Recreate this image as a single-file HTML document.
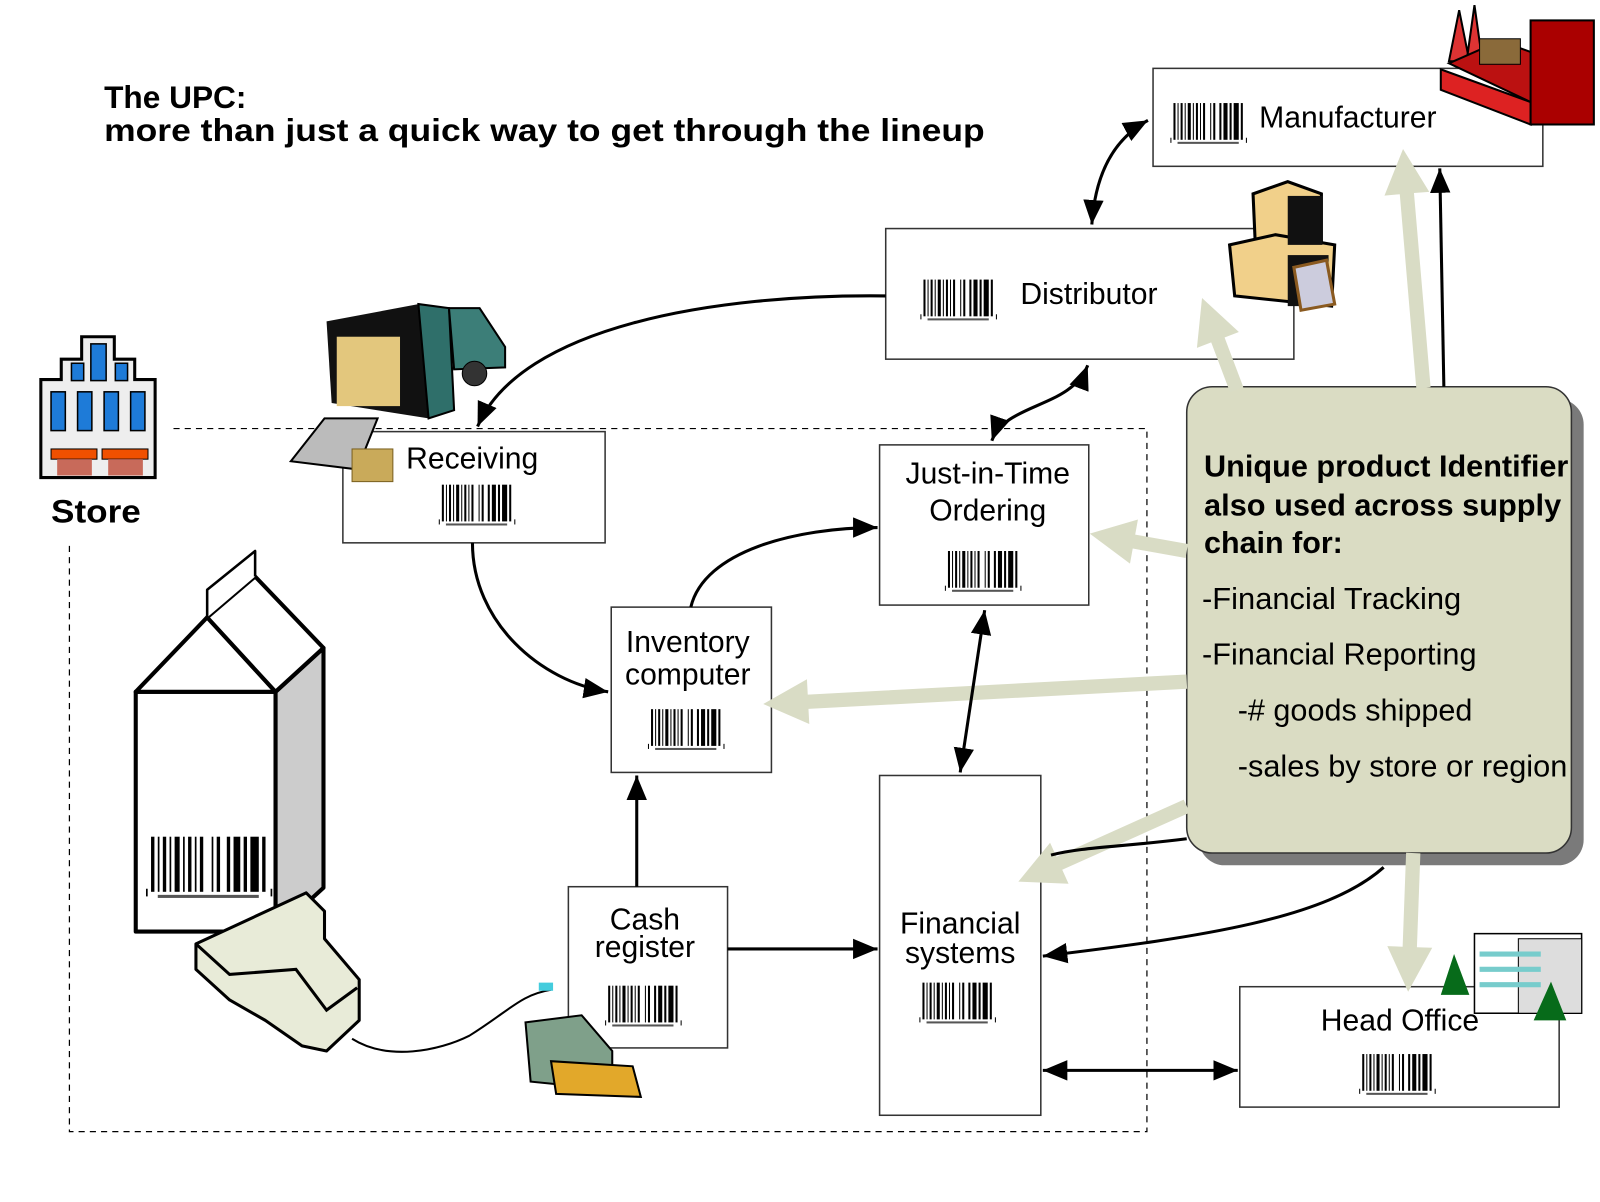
<!DOCTYPE html>
<html><head><meta charset="utf-8"><style>
html,body{margin:0;padding:0;background:#fff}
svg{display:block}
text{font-family:"Liberation Sans",Arial,sans-serif;fill:#000}
</style></head><body>
<svg width="1600" height="1202" viewBox="0 0 1568 1178" xmlns="http://www.w3.org/2000/svg">
<defs>
<marker id="ah" markerUnits="userSpaceOnUse" markerWidth="26" markerHeight="22" refX="24" refY="10" orient="auto-start-reverse"><path d="M0,0 L24,10 L0,20 z" fill="#000"/></marker>
<g id="bc">
<rect x="0" y="0" width="2" height="36"/><rect x="4" y="0" width="1" height="36"/><rect x="7" y="0" width="2" height="36"/><rect x="11" y="0" width="1" height="36"/><rect x="14" y="0" width="3" height="36"/><rect x="19" y="0" width="1" height="36"/><rect x="22" y="0" width="2" height="36"/><rect x="26" y="0" width="1" height="36"/><rect x="29" y="0" width="2" height="36"/><rect x="36" y="0" width="1" height="36"/><rect x="39" y="0" width="2" height="36"/><rect x="45" y="0" width="2" height="36"/><rect x="49" y="0" width="4" height="36"/><rect x="55" y="0" width="2" height="36"/><rect x="59" y="0" width="5" height="36"/><rect x="66" y="0" width="2" height="36"/>
<rect x="-3" y="34" width="1" height="5"/><rect x="71" y="34" width="1" height="5"/>
<rect x="4" y="38" width="60" height="2" fill="#555"/>
</g>
</defs>

<!-- title -->
<text x="102" y="106" font-size="31" font-weight="bold">The UPC:</text>
<text x="102" y="138" font-size="31" font-weight="bold" textLength="863" lengthAdjust="spacingAndGlyphs">more than just a quick way to get through the lineup</text>

<!-- dashed store boundary -->
<path d="M170,420 H1124 V1109 H68 V535" fill="none" stroke="#000" stroke-width="1.2" stroke-dasharray="6,5"/>

<!-- green box -->
<rect x="1175" y="391" width="377" height="457" rx="25" fill="#7a7a7a"/>
<rect x="1163" y="379" width="377" height="457" rx="25" fill="#dadcc3" stroke="#333" stroke-width="1.5"/>
<g font-size="30" font-weight="bold">
<text x="1180" y="467" textLength="357" lengthAdjust="spacingAndGlyphs">Unique product Identifier</text>
<text x="1180" y="505" textLength="350" lengthAdjust="spacingAndGlyphs">also used across supply</text>
<text x="1180" y="542" textLength="136" lengthAdjust="spacingAndGlyphs">chain for:</text>
</g>
<g font-size="30">
<text x="1178" y="597" textLength="254" lengthAdjust="spacingAndGlyphs">-Financial Tracking</text>
<text x="1178" y="651" textLength="269" lengthAdjust="spacingAndGlyphs">-Financial Reporting</text>
<text x="1213" y="706" textLength="230" lengthAdjust="spacingAndGlyphs">-# goods shipped</text>
<text x="1213" y="761" textLength="323" lengthAdjust="spacingAndGlyphs">-sales by store or region</text>
</g>

<!-- boxes -->
<g fill="#fff" stroke="#333" stroke-width="1.5">
<rect x="1130" y="67" width="382" height="96"/>
<rect x="868" y="224" width="400" height="128"/>
<rect x="336" y="423" width="257" height="109"/>
<rect x="862" y="436" width="205" height="157"/>
<rect x="599" y="595" width="157" height="162"/>
<rect x="557" y="869" width="156" height="158"/>
<rect x="862" y="760" width="158" height="333"/>
<rect x="1215" y="967" width="313" height="118"/>
</g>
<g font-size="29.5">
<text x="1234" y="125">Manufacturer</text>
<text x="1000" y="298">Distributor</text>
<text x="398" y="459">Receiving</text>
<text x="968" y="474" text-anchor="middle">Just-in-Time</text>
<text x="968" y="510" text-anchor="middle">Ordering</text>
<text x="674" y="639" text-anchor="middle">Inventory</text>
<text x="674" y="671" text-anchor="middle">computer</text>
<text x="632" y="911" text-anchor="middle">Cash</text>
<text x="632" y="938" text-anchor="middle">register</text>
<text x="941" y="915" text-anchor="middle">Financial</text>
<text x="941" y="944" text-anchor="middle">systems</text>
<text x="1372" y="1010" text-anchor="middle">Head Office</text>
</g>
<use href="#bc" x="1150" y="101"/>
<use href="#bc" x="905" y="274"/>
<use href="#bc" x="433" y="475"/>
<use href="#bc" x="929" y="540"/>
<use href="#bc" x="638" y="695"/>
<use href="#bc" x="596" y="966"/>
<use href="#bc" x="904" y="963"/>
<use href="#bc" x="1335" y="1033"/>

<!-- green arrows -->
<g id="garrows" fill="#d9dcc5"></g>

<!-- black connectors -->
<g fill="none" stroke="#000" stroke-width="3">
<path d="M1070,220 Q1075,145 1125,118" marker-start="url(#ah)" marker-end="url(#ah)"/>
<path d="M868,290 C700,288 510,320 468,418" marker-end="url(#ah)"/>
<path d="M1066,358 C1050,400 985,395 972,432" marker-start="url(#ah)" marker-end="url(#ah)"/>
<path d="M463,532 C463,610 530,668 596,678" marker-end="url(#ah)"/>
<path d="M677,595 C690,540 780,517 860,517" marker-end="url(#ah)"/>
<path d="M965,598 L941,757" marker-start="url(#ah)" marker-end="url(#ah)"/>
<path d="M624,869 L624,760" marker-end="url(#ah)"/>
<path d="M713,930 L860,930" marker-end="url(#ah)"/>
<path d="M1022,1049 L1213,1049" marker-start="url(#ah)" marker-end="url(#ah)"/>
<path d="M1356,850 C1300,900 1180,918 1022,937" marker-end="url(#ah)"/>
<path d="M1415,379 L1411,165" marker-end="url(#ah)"/>
<path d="M1163,822 C1100,830 1060,830 1030,838"/>
</g>

<!-- store icon -->
<g stroke="#000" stroke-width="3">
<path d="M40,372 H60 V352 H80 V330 H112 V352 H132 V372 H152 V468 H40 Z" fill="#eee"/>
</g>
<g fill="#1e7bd8" stroke="#000" stroke-width="1.5">
<rect x="89" y="337" width="15" height="36"/><rect x="70" y="356" width="12" height="17"/><rect x="113" y="356" width="12" height="17"/>
<rect x="50" y="384" width="14" height="38"/><rect x="76" y="384" width="14" height="38"/><rect x="102" y="384" width="14" height="38"/><rect x="128" y="384" width="14" height="38"/>
</g>
<rect x="50" y="440" width="45" height="10" fill="#f05000" stroke="#000"/><rect x="100" y="440" width="45" height="10" fill="#f05000" stroke="#000"/>
<rect x="56" y="450" width="34" height="16" fill="#c86a5a"/><rect x="106" y="450" width="34" height="16" fill="#c86a5a"/>
<text x="50" y="512" font-size="32" font-weight="bold" textLength="88" lengthAdjust="spacingAndGlyphs">Store</text>

<!-- truck -->
<path d="M285,452 L318,410 L370,410 L350,460 Z" fill="#bbb" stroke="#000" stroke-width="2"/>
<path d="M320,315 L410,298 L420,410 L325,395 Z" fill="#111"/>
<rect x="330" y="330" width="62" height="68" fill="#e3c77d"/>
<path d="M410,298 L440,302 L445,402 L420,410 Z" fill="#2f6f6a" stroke="#000" stroke-width="2"/>
<path d="M440,302 L470,302 L495,340 L495,360 L445,362 Z" fill="#3c7e78" stroke="#000" stroke-width="2"/>
<circle cx="465" cy="366" r="12" fill="#333" stroke="#000"/>
<rect x="345" y="440" width="40" height="32" fill="#c9aa5a" stroke="#7a6020"/>

<!-- distributor boxes -->
<path d="M1228,190 L1262,178 L1295,190 L1295,240 L1230,235 Z" fill="#f1d08a" stroke="#000" stroke-width="3"/>
<path d="M1205,240 L1250,230 L1308,240 L1305,300 L1210,290 Z" fill="#f1d08a" stroke="#000" stroke-width="3"/>
<rect x="1262" y="192" width="34" height="48" fill="#111"/>
<rect x="1262" y="250" width="40" height="50" fill="#111"/>
<path d="M1268,262 L1300,255 L1308,298 L1275,304 Z" fill="#ccd" stroke="#8a5a20" stroke-width="3"/>

<!-- factory -->
<path d="M1420,60 L1430,10 L1440,60 Z M1438,55 L1445,5 L1452,55 Z" fill="#d33" stroke="#000" stroke-width="2"/>
<path d="M1412,68 L1500,100 L1500,122 L1412,88 Z" fill="#d22" stroke="#000" stroke-width="2"/>
<path d="M1420,62 L1470,40 L1525,60 L1500,100 Z" fill="#b11" stroke="#000" stroke-width="2"/>
<rect x="1500" y="20" width="62" height="102" fill="#a00" stroke="#000" stroke-width="2"/>
<rect x="1450" y="38" width="40" height="25" fill="#8a6a3a" stroke="#000"/>

<!-- head office -->
<rect x="1445" y="915" width="105" height="78" fill="#fff" stroke="#000" stroke-width="1.5"/>
<rect x="1488" y="920" width="62" height="73" fill="#ddd" stroke="#000"/>
<path d="M1450,935 H1510 M1450,950 H1510 M1450,965 H1510" stroke="#7cc" stroke-width="5"/>
<path d="M1425,935 L1412,975 L1440,975 Z M1520,962 L1503,1000 L1535,1000 Z" fill="#076b1a"/>

<!-- milk carton -->
<g stroke="#000" stroke-width="4" stroke-linejoin="round">
<path d="M270,678 L317,635 L317,870 L270,913 Z" fill="#ccc"/>
<path d="M133,678 L270,678 L270,913 L133,913 Z" fill="#fff"/>
<path d="M133,678 L203,605 L270,678 Z" fill="#fff"/>
<path d="M203,605 L250,565 L317,635 L270,678 Z" fill="#fff"/>
<path d="M203,605 L203,578 L250,540 L250,565" fill="#fff" stroke-width="2.5"/>
</g>
<g transform="translate(148,820) scale(1.65,1.5)"><use href="#bc"/></g>
<!-- scanner -->
<path d="M192,925 L300,875 L318,893 L318,920 L352,960 L352,1000 L320,1030 L296,1025 L260,1000 L225,980 L192,950 Z" fill="#e8ebd8" stroke="#000" stroke-width="3" stroke-linejoin="round"/>
<path d="M192,925 L225,955 L290,950 L320,990 L350,968" fill="none" stroke="#000" stroke-width="3"/>
<path d="M345,1018 C380,1040 430,1030 460,1015 C500,990 510,975 540,970" fill="none" stroke="#000" stroke-width="2"/>
<!-- cash register -->
<path d="M515,1002 L570,995 L600,1030 L600,1068 L520,1060 Z" fill="#7fa08a" stroke="#000" stroke-width="2"/>
<path d="M540,1040 L620,1045 L628,1075 L545,1072 Z" fill="#e2a82a" stroke="#000" stroke-width="2"/>
<rect x="528" y="963" width="14" height="8" fill="#4cd"/>

<script>
(function(){
var g=document.getElementById('garrows');
var A=[[1212,382,1178,292],[1395,380,1375,146],[1163,540,1068,523],[1163,668,748,690],[1163,790,998,864],[1385,836,1380,972]];
A.forEach(function(a){
var x1=a[0],y1=a[1],x2=a[2],y2=a[3],dx=x2-x1,dy=y2-y1,L=Math.hypot(dx,dy),ux=dx/L,uy=dy/L,px=-uy,py=ux,w=7,hl=44,hw=22;
var bx=x2-ux*hl,by=y2-uy*hl;
var pts=[[x1+px*w,y1+py*w],[bx+px*w,by+py*w],[bx+px*hw,by+py*hw],[x2,y2],[bx-px*hw,by-py*hw],[bx-px*w,by-py*w],[x1-px*w,y1-py*w]];
var p=document.createElementNS('http://www.w3.org/2000/svg','polygon');
p.setAttribute('points',pts.map(function(q){return q[0].toFixed(1)+','+q[1].toFixed(1)}).join(' '));
g.appendChild(p);
});
})();
</script>
</svg>
</body></html>
